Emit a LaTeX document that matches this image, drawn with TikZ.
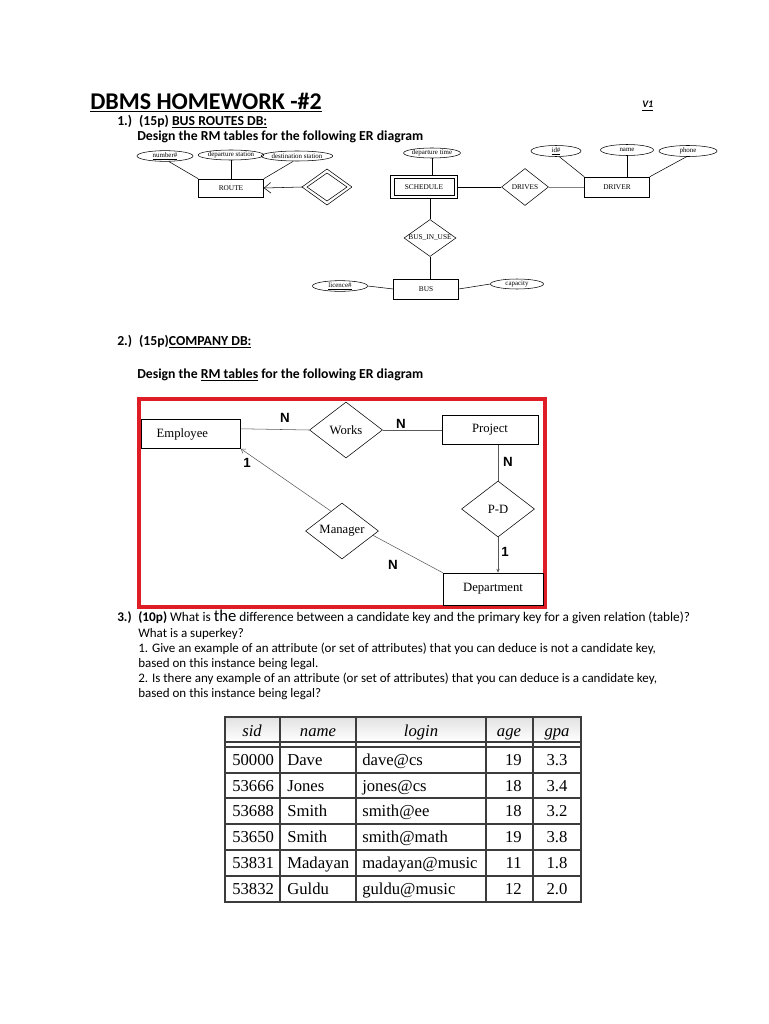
\documentclass[tikz,border=0pt]{standalone}
\usepackage{fontspec}
\setmainfont{Carlito}
\newfontfamily\erfont{Liberation Serif}
\newfontfamily\cardfont{Liberation Sans}
\usepackage{xcolor}
\usetikzlibrary{shapes.geometric,arrows.meta}

\definecolor{boxred}{RGB}{222,30,36}
\definecolor{rulegray}{RGB}{60,60,60}
\definecolor{headgray}{RGB}{226,226,226}

\newcommand{\px}{0.75pt}

\tikzset{
  hwtext/.style={anchor=base west, inner sep=0pt, font=\fontsize{9.75}{12}\selectfont},
  hwbold/.style={anchor=base west, inner sep=0pt, font=\fontsize{10.3}{12}\selectfont\bfseries},
  busent/.style={draw, rectangle, inner sep=0pt, minimum width=65*\px, minimum height=20*\px, font=\erfont\fontsize{5.5}{6}\selectfont},
  busattr/.style={draw, ellipse, inner sep=0pt, minimum width=56*\px, minimum height=10*\px, font=\erfont\fontsize{5.2}{6}\selectfont},
  busrel/.style={draw, diamond, inner sep=0pt, aspect=1.4, minimum width=50*\px, minimum height=37*\px, font=\erfont\fontsize{5.5}{6}\selectfont},
  coent/.style={draw, rectangle, inner sep=0pt, minimum width=99*\px, minimum height=29*\px, font=\erfont\fontsize{9.5}{11}\selectfont},
  corel/.style={draw, diamond, inner sep=0pt, aspect=1.3, minimum width=73*\px, minimum height=56*\px, font=\erfont\fontsize{9.5}{11}\selectfont},
  card/.style={inner sep=0pt, font=\cardfont\fontsize{10}{12}\selectfont\bfseries},
  cell/.style={anchor=base west, inner sep=0pt, font=\erfont\fontsize{12.5}{14}\selectfont},
  headcell/.style={anchor=base, inner sep=0pt, font=\erfont\fontsize{12.5}{14}\selectfont\itshape},
}

\begin{document}
\begin{tikzpicture}[x=0.75pt,y=0.75pt,yscale=-1,xscale=1]
\useasboundingbox (0,0) rectangle (768,1024);

% Text Node
\node (title) at (90,109) [anchor=base west, inner sep=0pt, font=\fontsize{18}{21}\selectfont\bfseries] {\underline{DBMS HOMEWORK -\#2}};
% Text Node
\node (ver) at (642,108) [anchor=base west, inner sep=0pt, font=\fontsize{7.5}{9}\selectfont\bfseries\itshape] {\underline{V1}};
% Text Node
\node (q1) at (117,125) [hwbold] {1.)\enspace (15p) \underline{BUS ROUTES DB:}};
% Text Node
\node (q1b) at (137,140) [hwbold] {Design the RM tables for the following ER diagram};

%Shape: Attributes of ROUTE
\node (num) at (165,156) [busattr] {\underline{number\#}};
\node (depst) at (231,155) [busattr, minimum width=58*\px] {departure station};
\node (dest) at (297,156) [busattr, minimum width=62*\px] {destination station};
%Shape: ROUTE
\node (route) at (231,188) [busent, minimum height=18*\px] {ROUTE};
%Shape: weak relationship (double diamond)
\coordinate (rs) at (327,187);
\coordinate (rsw) at (302,187);
\coordinate (rse) at (352,187);
\draw (rsw) -- ++(25,-18) -- ++(25,18) -- ++(-25,18) -- cycle;
\draw (rs) ++(-20,0) -- ++(20,-14) -- ++(20,14) -- ++(-20,14) -- cycle;
%Shape: SCHEDULE
\node (sched) at (424,187) [busent, minimum width=67*\px, minimum height=23*\px] {};
\node (schedin) at (424,187) [busent, minimum width=60*\px, minimum height=17*\px] {SCHEDULE};
\node (dtime) at (432,153) [busattr, minimum width=54*\px] {departure time};
%Shape: DRIVES
\node (drives) at (525,187) [busrel, minimum width=47*\px] {DRIVES};
%Shape: DRIVER
\node (driver) at (617,187) [busent] {DRIVER};
\node (did) at (556,151) [busattr, minimum width=50*\px, minimum height=11*\px] {\underline{id\#}};
\node (dname) at (627,150) [busattr, minimum width=53*\px, minimum height=11*\px] {name};
\node (dphone) at (688,151) [busattr, minimum width=58*\px, minimum height=11*\px] {phone};
%Shape: BUS_IN_USE
\node (inuse) at (430,238) [busrel, minimum width=52*\px] {BUS\_IN\_USE};
%Shape: BUS
\node (bus) at (426,289) [busent] {BUS};
\node (lic) at (340,286) [busattr, minimum width=55*\px] {\underline{licence\#}};
\node (cap) at (517,284) [busattr, minimum width=53*\px] {capacity};

%Straight Lines
\draw (num.-55) -- (route.north west);
\draw (depst.south) -- (depst.south |- route.north);
\draw (dest.-125) -- (route.north east);
\draw [-{Straight Barb[length=5pt,width=8pt]}] (rsw) -- (route.east);
\draw [double, double distance=1.2pt] (rse) -- (sched.west);
\draw (dtime.south) -- (dtime.south |- sched.north);
\draw (sched.east) -- (drives.west);
\draw [color=gray] (drives.east) -- (driver.west);
\draw (did.-60) -- (driver.north west);
\draw (dname.south) -- (dname.south |- driver.north);
\draw (dphone.-105) -- (driver.north east);
\draw (inuse.north) -- (inuse.north |- sched.south);
\draw (inuse.south) -- (inuse.south |- bus.north);
\draw (lic.east) -- (bus.west);
\draw (cap.west) -- (bus.east);

% Text Node
\node (q2) at (117,345) [hwbold] {2.)\enspace (15p)\underline{COMPANY DB:}};
% Text Node
\node (q2b) at (137,378) [hwbold] {Design the \underline{RM tables} for the following ER diagram};

%Shape: Rectangle (frame)
\draw [color=boxred, line width=2.4] (139,399) rectangle (545,607);

%Shape: Company entities
\node (emp) at (191,434) [coent] {\hspace*{-13pt}Employee};
\node (proj) at (490,430) [coent, minimum width=96*\px] {Project};
\node (dept) at (493,589) [coent, minimum width=100*\px, minimum height=32*\px] {Department};
%Shape: Company relationships
\node (works) at (346,430) [corel] {Works};
\node (pd) at (498,509) [corel] {P-D};
\node (mgr) at (342,531) [corel] {Manager};

%Straight Lines
\draw [color=gray!70!black] (emp.6) -- (works.west);
\draw [color=gray!70!black] (works.east) -- (works.east -| proj.west);
\draw [color=gray!70!black] (pd.north) -- (pd.north |- proj.south);
\draw [color=gray!70!black, -{Stealth[length=3pt,width=2.5pt]}] (pd.south) -- (pd.south |- dept.north);
\draw [color=gray!70!black, -{Straight Barb[length=3pt,width=4pt]}] (mgr.119) -- (emp.south east);
\draw [color=gray!70!black] (mgr.-8) -- (dept.north west);

% Text Node
\node (cn1) at (285,418) [card] {N};
\node (cn2) at (401,424) [card] {N};
\node (cn3) at (508,462) [card] {N};
\node (cn4) at (393,565) [card] {N};
\node (c11) at (247,463) [card] {1};
\node (c12) at (505,552) [card] {1};

% Text Node
\node (q3) at (117,621) [hwtext, font=\fontsize{9.95}{12}\selectfont] {\textbf{3.)}\enspace\textbf{(10p)} What is {\fontsize{12.5}{14}\selectfont the} difference between a candidate key and the primary key for a given relation (table)?};
\node (q3b) at (138,637) [hwtext] {What is a superkey?};
\node (q3c) at (138,652) [hwtext] {1. Give an example of an attribute (or set of attributes) that you can deduce is not a candidate key,};
\node (q3d) at (138,667) [hwtext] {based on this instance being legal.};
\node (q3e) at (138,682) [hwtext] {2. Is there any example of an attribute (or set of attributes) that you can deduce is a candidate key,};
\node (q3f) at (138,697) [hwtext] {based on this instance being legal?};

%Shape: Table
\fill [top color=headgray, bottom color=white] (225,717) rectangle (581,742);
\draw [color=rulegray, line width=1.3] (225,717) rectangle (581,902);
\draw [color=rulegray, line width=1.3] (225,742) -- (581,742);
\draw [color=rulegray, line width=1.3] (225,747) -- (581,747);
\foreach \cx in {280,356,486,533}
  \draw [color=rulegray, line width=1.3] (\cx,717) -- (\cx,902);
\foreach \ry in {773,798,824,850,876}
  \draw [color=rulegray, line width=1.3] (225,\ry) -- (581,\ry);

\node (hsid) at (252,736) [headcell] {sid};
\node (hname) at (318,736) [headcell] {name};
\node (hlogin) at (421,736) [headcell] {login};
\node (hage) at (509,736) [headcell] {age};
\node (hgpa) at (557,736) [headcell] {gpa};

\foreach \sid/\nm/\lg/\ag/\gp [count=\r] in {50000/Dave/dave@cs/19/3.3, 53666/Jones/jones@cs/18/3.4, 53688/Smith/smith@ee/18/3.2, 53650/Smith/smith@math/19/3.8, 53831/Madayan/madayan@music/11/1.8, 53832/Guldu/guldu@music/12/2.0}{
  \node (sid\r) at (232,746+\r*25.83-6.5) [cell] {\sid};
  \node (nm\r) at (287,746+\r*25.83-6.5) [cell] {\nm};
  \node (lg\r) at (362,746+\r*25.83-6.5) [cell] {\lg};
  \node (ag\r) at (522,746+\r*25.83-6.5) [cell, anchor=base east] {\ag};
  \node (gp\r) at (557,746+\r*25.83-6.5) [cell, anchor=base] {\gp};
}
\end{tikzpicture}
\end{document}
